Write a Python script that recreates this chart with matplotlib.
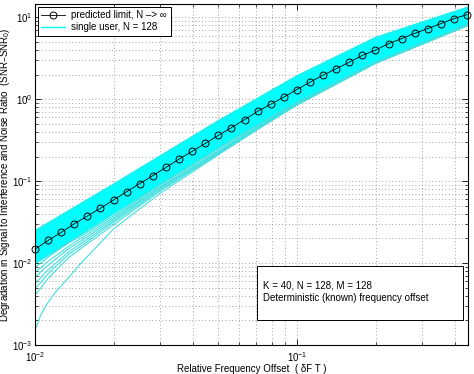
import matplotlib

matplotlib.use("Agg")
import matplotlib.pyplot as plt
import numpy as np
from matplotlib.patches import Rectangle
from matplotlib.ticker import LogLocator, NullFormatter

plt.rcParams["font.family"] = ["Liberation Sans", "DejaVu Sans"]
plt.rcParams["mathtext.default"] = "regular"
plt.rcParams["font.size"] = 7

# predicted limit, N -> inf
x_pred = [
    0.0100, 0.01122, 0.01259, 0.01413, 0.01585, 0.01778, 0.01995, 0.02239,
    0.02512, 0.02818, 0.03162, 0.03548, 0.03981, 0.04467, 0.05012, 0.05623,
    0.0631, 0.07079, 0.07943, 0.08913, 0.1, 0.1122, 0.1259, 0.1413,
    0.1585, 0.1778, 0.1995, 0.2239, 0.2512, 0.2818, 0.3162, 0.3548,
    0.3981, 0.4467,
]
y_pred = [
    0.0148, 0.0189, 0.0237, 0.0302, 0.0376, 0.0467, 0.059, 0.0746,
    0.0935, 0.117, 0.147, 0.186, 0.231, 0.289, 0.362, 0.450,
    0.563, 0.713, 0.869, 1.06, 1.315, 1.616, 1.97, 2.36,
    2.84, 3.43, 3.98, 4.77, 5.50, 6.38, 7.29, 8.39,
    9.66, 10.8,
]

# single users inside the band, log10 of degradation
x_band = [0.01, 0.02, 0.05, 0.1, 0.2, 0.45]
band_log10 = [
    [-1.61, -1.04, -0.27, 0.28, 0.75, 1.12],
    [-1.63, -1.05, -0.28, 0.27, 0.73, 1.11],
    [-1.64, -1.06, -0.30, 0.25, 0.74, 1.10],
    [-1.66, -1.07, -0.29, 0.26, 0.72, 1.09],
    [-1.67, -1.09, -0.32, 0.24, 0.71, 1.11],
    [-1.69, -1.10, -0.32, 0.23, 0.70, 1.08],
    [-1.70, -1.12, -0.34, 0.22, 0.68, 1.09],
    [-1.72, -1.13, -0.35, 0.20, 0.69, 1.07],
    [-1.74, -1.14, -0.37, 0.19, 0.66, 1.08],
    [-1.75, -1.16, -0.38, 0.18, 0.65, 1.06],
    [-1.77, -1.18, -0.39, 0.16, 0.64, 1.07],
    [-1.79, -1.19, -0.41, 0.15, 0.63, 1.05],
    [-1.80, -1.21, -0.43, 0.14, 0.61, 1.04],
    [-1.82, -1.23, -0.44, 0.12, 0.60, 1.03],
    [-1.84, -1.24, -0.46, 0.10, 0.58, 1.02],
    [-1.86, -1.26, -0.47, 0.09, 0.57, 1.00],
    [-1.88, -1.28, -0.49, 0.07, 0.56, 1.01],
    [-1.89, -1.29, -0.50, 0.06, 0.54, 0.98],
    [-1.91, -1.31, -0.51, 0.04, 0.53, 0.99],
    [-1.93, -1.32, -0.53, 0.03, 0.51, 0.96],
    [-1.95, -1.34, -0.54, 0.02, 0.50, 0.97],
    [-1.96, -1.36, -0.56, 0.00, 0.49, 0.94],
    [-1.98, -1.37, -0.57, -0.01, 0.48, 0.93],
    [-2.00, -1.39, -0.59, -0.03, 0.46, 0.91],
]

# single users that start below the band
x_low = [0.01, 0.0105, 0.011, 0.012, 0.0135, 0.015, 0.02, 0.03, 0.05, 0.07,
         0.1, 0.2, 0.45]
low_log10 = [
    [-2.05, -2.00, -1.95, -1.86, -1.75, -1.67, -1.42, -1.05, -0.61, -0.32, -0.04, 0.46, 0.92],
    [-2.11, -2.06, -2.00, -1.91, -1.79, -1.70, -1.44, -1.07, -0.63, -0.34, -0.05, 0.45, 0.91],
    [-2.17, -2.11, -2.05, -1.95, -1.82, -1.73, -1.46, -1.08, -0.64, -0.35, -0.05, 0.45, 0.91],
    [-2.25, -2.18, -2.11, -2.00, -1.86, -1.76, -1.48, -1.09, -0.65, -0.36, -0.06, 0.45, 0.91],
    [-2.31, -2.24, -2.16, -2.04, -1.89, -1.79, -1.50, -1.11, -0.66, -0.36, -0.06, 0.44, 0.91],
    [-2.39, -2.31, -2.22, -2.09, -1.93, -1.82, -1.53, -1.12, -0.67, -0.37, -0.07, 0.44, 0.90],
    [-2.82, -2.64, -2.52, -2.35, -2.17, -2.00, -1.58, -1.15, -0.68, -0.38, -0.07, 0.44, 0.90],
]

fig = plt.figure(figsize=(4.74, 3.74), dpi=100)
ax = fig.add_axes([0.0738, 0.0775, 0.9135, 0.9115])

cyan = "#00ffff"
for row in band_log10:
    ax.plot(x_band, 10 ** np.array(row), color=cyan, lw=1.6)
for row in low_log10:
    ax.plot(x_low, 10 ** np.array(row), color="#3fe0e0", lw=0.8)
# edge lines slightly darker
for row in (band_log10[0], band_log10[-1]):
    ax.plot(x_band, 10 ** np.array(row), color="#3fe0e0", lw=0.6)

ax.plot(
    x_pred,
    y_pred,
    color="k",
    lw=0.6,
    marker="o",
    ms=5,
    mfc="none",
    mew=0.7,
    clip_on=False,
    zorder=5,
)

ax.set_xscale("log")
ax.set_yscale("log")
ax.set_xlim(0.01, 0.45)
ax.set_ylim(1e-3, 14.5)
ax.xaxis.set_minor_locator(LogLocator(base=10, subs=np.arange(2, 10)))
ax.yaxis.set_minor_locator(LogLocator(base=10, subs=np.arange(2, 10), numticks=20))
ax.yaxis.set_major_locator(LogLocator(base=10, numticks=20))
ax.xaxis.set_minor_formatter(NullFormatter())
ax.yaxis.set_minor_formatter(NullFormatter())

ax.grid(True, which="both", linestyle=(0, (1, 3)), color="#888888", lw=0.6)
ax.tick_params(which="both", direction="in", top=True, right=True, colors="k")
ax.tick_params(which="major", length=4, width=0.6, labelsize=7)
ax.tick_params(axis="x", which="major", pad=4)
ax.tick_params(axis="y", which="major", pad=2)
ax.tick_params(which="minor", length=2, width=0.5)
for s in ax.spines.values():
    s.set_linewidth(0.8)

ax.set_xlabel("Relative Frequency Offset  ( δF T )", fontsize=7, labelpad=0)
ax.set_ylabel(
    "Degradation in Signal to Interference and Noise Ratio  (SNR–SNR$_0$)",
    fontsize=7,
)
ax.yaxis.set_label_coords(-0.052, 0.5)

h_pred = plt.Line2D([], [], color="k", lw=0.6, marker="o", ms=5, mfc="none", mew=0.7)
h_user = plt.Line2D([], [], color=cyan, lw=1.0)
leg = ax.legend(
    [h_pred, h_user],
    ["predicted limit, N –> ∞", "single user, N = 128"],
    loc="upper left",
    fancybox=False,
    framealpha=1,
    edgecolor="k",
    fontsize=7,
    borderpad=0.35,
    labelspacing=0.2,
    handlelength=2.4,
    handletextpad=0.7,
    borderaxespad=0.3,
)
leg.get_frame().set_linewidth(0.7)

ax.add_patch(
    Rectangle(
        (0.513, 0.073),
        0.475,
        0.159,
        transform=ax.transAxes,
        facecolor="white",
        edgecolor="k",
        lw=0.7,
        zorder=6,
    )
)
ax.text(
    0.527,
    0.155,
    "K = 40, N = 128, M = 128\nDeterministic (known) frequency offset",
    transform=ax.transAxes,
    ha="left",
    va="center",
    fontsize=7,
    linespacing=1.3,
    zorder=7,
)

fig.savefig("out.png", dpi=100)
